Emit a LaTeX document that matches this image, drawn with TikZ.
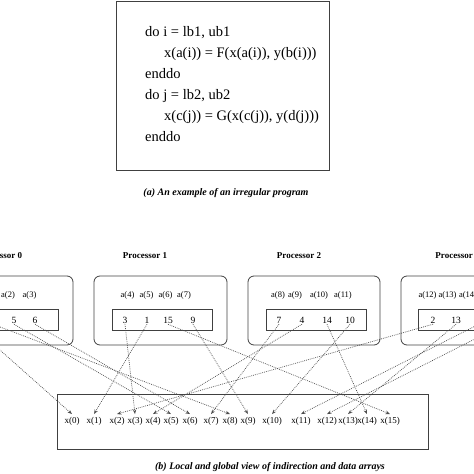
\documentclass[tikz,border=0pt]{standalone}
\usepackage{fontspec}
\setmainfont{Liberation Serif}
\usetikzlibrary{arrows.meta}
\begin{document}
\begin{tikzpicture}[x=1pt,y=-1pt,
  box/.style={draw=black!75, line width=0.8pt},
  pbox/.style={draw=black!75, line width=0.8pt, rounded corners=6pt},
  code/.style={anchor=base west, font=\fontsize{14.5}{17}\selectfont, inner sep=0pt},
  captext/.style={anchor=base, font=\fontsize{10}{12}\selectfont\bfseries\itshape, inner sep=0pt},
  proc/.style={anchor=base, font=\fontsize{9}{11}\selectfont\bfseries, inner sep=0pt},
  alab/.style={anchor=base, font=\fontsize{8.5}{10}\selectfont, inner sep=0pt},
  num/.style={anchor=base, font=\fontsize{9.5}{11}\selectfont, inner sep=1pt},
  xlab/.style={anchor=base, font=\fontsize{9}{11}\selectfont, inner sep=2.5pt},
  link/.style={draw=black!70, line width=0.7pt, dash pattern=on 0.8pt off 1.1pt,
    -{Stealth[length=4.5pt,width=3.5pt,open]}}
]
\useasboundingbox (0,0) rectangle (474,474);
\clip (0,0) rectangle (474,474);

% ---------- (a) program ----------
\draw[box] (116,1) rectangle (329,170);
\node[code] (c1) at (145,36.5) {do i = lb1, ub1};
\node[code] (c2) at (164,57.5) {x(a(i)) = F(x(a(i)), y(b(i)))};
\node[code] (c3) at (145,78.5) {enddo};
\node[code] (c4) at (145,99.5) {do j = lb2, ub2};
\node[code] (c5) at (164,120.5) {x(c(j)) = G(x(c(j)), y(d(j)))};
\node[code] (c6) at (145,141.5) {enddo};
\node[captext] (capa) at (226,195) {(a) An example of an irregular program};

% ---------- processors ----------
\node[proc] (p0) at (0,258) {Processor 0};
\node[proc] (p1) at (145,258) {Processor 1};
\node[proc] (p2) at (299,258) {Processor 2};
\node[proc] (p3) at (457.5,258) {Processor 3};

\draw[pbox] (-60,276) rectangle (73,345);
\draw[pbox] (94,276) rectangle (227,345);
\draw[pbox] (248,276) rectangle (380,345);
\draw[pbox] (401,276) rectangle (534,345);

\draw[box] (-42,309) rectangle (58,330);
\draw[box] (112,309) rectangle (212,330);
\draw[box] (266,309) rectangle (366,330);
\draw[box] (418,309) rectangle (518,330);

% a labels
\foreach \k/\xx in {0/-30,1/-12,2/8,3/29.5,4/127.5,5/146.5,6/165.5,7/184,
                    8/278,9/295,10/319,11/343,12/427.5,13/447.5,14/468,15/489}
  \node[alab] (a\k) at (\xx,297) {a(\k)};

% numbers (values of a)
\foreach \k/\xx/\v in {0/-29/0,1/-7/8,2/14/5,3/35/6,
                       4/125/3,5/147/1,6/168/15,7/193/9,
                       8/279/7,9/302/4,10/327/14,11/350/10,
                       12/433/2,13/456/13,14/479/11,15/504/12}
  \node[num] (n\k) at (\xx,323) {\v};

% ---------- global array ----------
\draw[box] (57,394) rectangle (428,449);
\foreach \k/\xx in {0/72,1/94,2/117,3/135,4/153,5/171,6/190,7/211,
                    8/230,9/248,10/272,11/301,12/327,13/348,14/367,15/390}
  \node[xlab] (x\k) at (\xx,423) {x(\k)};

% ---------- indirection links ----------
\foreach \k/\v in {0/0,1/8,2/5,3/6,4/3,5/1,6/15,7/9,
                   8/7,9/4,10/14,11/10,12/2,13/13,14/11,15/12}
  \draw[link] (n\k.south) -- (x\v.north);

\node[captext] (capb) at (270,469) {(b) Local and global view of indirection and data arrays};
\end{tikzpicture}
\end{document}
